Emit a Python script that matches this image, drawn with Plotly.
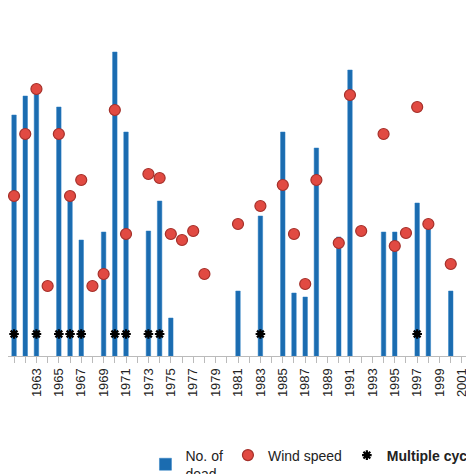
import plotly.graph_objects as go

# bar heights / wind values (relative units, axis not visible)
dead_years = [1961, 1962, 1963, 1965, 1966, 1967, 1969, 1970, 1971, 1973, 1974, 1975,
              1981, 1983, 1985, 1986, 1987, 1988, 1990, 1991, 1994, 1995, 1997, 1998, 2000]
dead = [241, 260, 265, 249, 158, 116, 124, 304, 224, 125, 155, 38,
        65, 140, 224, 63, 59, 208, 119, 286, 124, 124, 153, 131, 65]

wind_years = [1961, 1962, 1963, 1964, 1965, 1966, 1967, 1968, 1969, 1970, 1971, 1973,
              1974, 1975, 1976, 1977, 1978, 1981, 1983, 1985, 1986, 1987, 1988, 1990,
              1991, 1992, 1994, 1995, 1996, 1997, 1998, 2000]
wind = [160, 222, 267, 70, 222, 160, 176, 70, 82, 246, 122, 182,
        178, 122, 116, 125, 82, 132, 150, 171, 122, 72, 176, 113,
        261, 125, 222, 110, 123, 249, 132, 92]

multi_years = [1961, 1963, 1965, 1966, 1967, 1970, 1971, 1973, 1974, 1983, 1997]
multi = [22] * len(multi_years)

all_years = list(range(1960, 2004))
tick_text = [str(y) if y % 2 == 1 else "" for y in all_years]

fig = go.Figure()
fig.add_trace(go.Bar(x=dead_years, y=dead, name="No. of<br>dead", width=0.4,
                     marker=dict(color="#1b6cb0", line=dict(color="#2a7fc4", width=0.5))))
fig.add_trace(go.Scatter(x=wind_years, y=wind, mode="markers", name="Wind speed",
                         marker=dict(color="#e14a42", size=11, line=dict(color="#a5302a", width=1.2))))
fig.add_trace(go.Scatter(x=multi_years, y=multi, mode="markers", name="<b>Multiple cyclones</b>",
                         marker=dict(symbol="asterisk-open", color="black", size=8,
                                     line=dict(color="black", width=2.2))))

fig.update_layout(
    width=474, height=474,
    margin=dict(l=0, r=0, t=0, b=126, autoexpand=False),
    plot_bgcolor="white", paper_bgcolor="white",
    font=dict(family="Liberation Sans", size=13, color="#222"),
    showlegend=True,
    legend=dict(orientation="h", x=0.29, y=-0.24, xanchor="left", yanchor="top",
                font=dict(size=14), itemwidth=30),
    xaxis=dict(range=[1960.46, 2002.79], tickvals=all_years, ticktext=tick_text,
               tickangle=-90, ticks="outside", ticklen=6, tickcolor="#bbb",
               showline=True, linecolor="#bbb", showgrid=False, zeroline=False,
               tickfont=dict(size=13), automargin=False),
    yaxis=dict(range=[0, 348], visible=False, automargin=False),
)

fig.write_html("out.html")
